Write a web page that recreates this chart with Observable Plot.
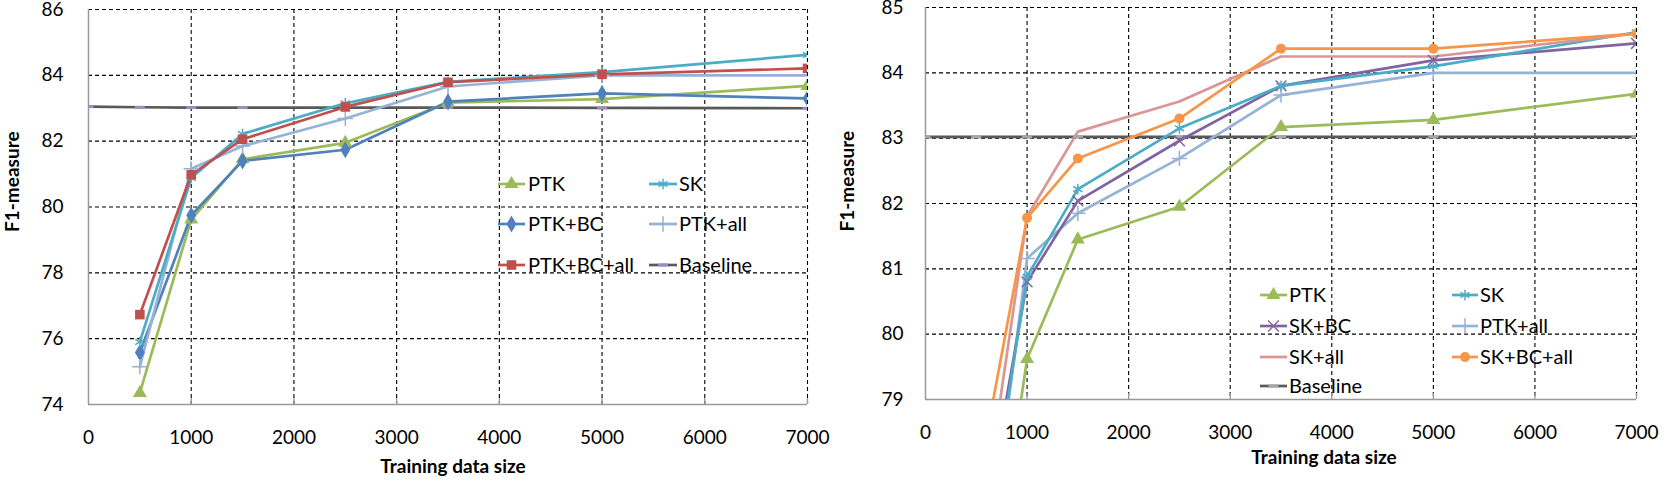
<!DOCTYPE html>
<html><head><meta charset="utf-8">
<script src="https://cdn.jsdelivr.net/npm/d3@7"></script>
<script src="https://cdn.jsdelivr.net/npm/@observablehq/plot@0.6"></script>
<style>
body{margin:0;background:#fff;font-family:Lato,sans-serif;}
#wrap{position:relative;width:1666px;height:485px;display:flex;overflow:hidden;}
.panel{position:relative;width:833px;height:485px;}
.legend{position:absolute;left:0;top:0;pointer-events:none;}
</style></head><body><div id="wrap"></div>
<script>
// ---- data ----
const sizes = [500, 1000, 1500, 2500, 3500, 5000, 7000];
const baseSizes = [0, 500, 1000, 1500, 2500, 3500, 5000, 7000];
const ptk      = [74.35, 79.62, 81.45, 81.95, 83.17, 83.28, 83.68];
const sk       = [75.90, 80.88, 82.22, 83.15, 83.80, 84.10, 84.62];
const ptkBC    = [75.58, 79.75, 81.40, 81.74, 83.20, 83.45, 83.30];
const ptkAll   = [75.15, 81.16, 81.85, 82.69, 83.66, 84.00, 84.00];
const ptkBCAll = [76.73, 80.98, 82.06, 83.04, 83.79, 84.03, 84.21];
const baselineL = [83.05, 83.03, 83.02, 83.02, 83.02, 83.02, 83.01, 83.00];
const skBC     = [76.40, 80.80, 82.04, 82.96, 83.80, 84.19, 84.45];
const skAll    = [76.50, 81.80, 83.10, 83.56, 84.25, 84.25, 84.60];
const skBCAll  = [77.60, 81.78, 82.69, 83.30, 84.37, 84.37, 84.60];
const baselineR = [83.02, 83.02, 83.02, 83.02, 83.02, 83.02, 83.02, 83.02];
const xTicks = [0, 1000, 2000, 3000, 4000, 5000, 6000, 7000];
const yTicksL = [74, 76, 78, 80, 82, 84, 86];
const yTicksR = [79, 80, 81, 82, 83, 84, 85];
const xTitle = "Training data size";
const yTitle = "F1-measure";

// ---- styles ----
const dash = {draw(ctx, size) { const r = Math.sqrt(size / Math.PI); ctx.moveTo(-r, 0); ctx.lineTo(r, 0); }};
const C = {
  ptk: "#9BBB59", sk: "#4BACC6", ptkBC: "#4F81BD", ptkAll: "#95B3D7",
  ptkBCAll: "#C0504D", base: "#595959", skBC: "#8064A2", skAll: "#D99694", skBCAll: "#F79646"
};
function S(name, xs, vals, color, symbol, kind, r, mcolor) {
  return {name, xs, vals, color, symbol, kind, r, mcolor: mcolor || color};
}
const leftSeries = [
  S("Baseline", baseSizes, baselineL, C.base, dash, "dash", 5, "#A08BC4"),
  S("PTK", sizes, ptk, C.ptk, "triangle", "fill", 5.2),
  S("PTK+BC", sizes, ptkBC, C.ptkBC, "diamond", "fill", 5.2),
  S("PTK+all", sizes, ptkAll, C.ptkAll, "plus", "stroke", 5),
  S("SK", sizes, sk, C.sk, "asterisk", "stroke", 5),
  S("PTK+BC+all", sizes, ptkBCAll, C.ptkBCAll, "square", "fill", 5.4)
];
const rightSeries = [
  S("Baseline", baseSizes, baselineR, C.base, dash, "dash", 5, "#A6A6A6"),
  S("PTK", sizes, ptk, C.ptk, "triangle", "fill", 5.2),
  S("PTK+all", sizes, ptkAll, C.ptkAll, "plus", "stroke", 5),
  S("SK+BC", sizes, skBC, C.skBC, "times", "stroke", 5),
  S("SK", sizes, sk, C.sk, "asterisk", "stroke", 5),
  S("SK+all", sizes, skAll, C.skAll, null, "none", 0),
  S("SK+BC+all", sizes, skBCAll, C.skBCAll, "circle", "fill", 5)
];

function seriesMarks(list) {
  const marks = [];
  for (const s of list) {
    const data = s.xs.map((x, i) => ({x, y: s.vals[i]}));
    marks.push(Plot.line(data, {x: "x", y: "y", stroke: s.color, strokeWidth: 2.7, clip: true}));
  }
  for (const s of list) {
    if (s.kind === "none") continue;
    const data = s.xs.map((x, i) => ({x, y: s.vals[i]}));
    const o = {x: "x", y: "y", r: s.r, symbol: s.symbol, clip: true};
    if (s.kind === "fill") Object.assign(o, {fill: s.mcolor, stroke: "none"});
    else if (s.kind === "stroke") Object.assign(o, {fill: "none", stroke: s.mcolor, strokeWidth: 1.5});
    else Object.assign(o, {fill: "none", stroke: s.mcolor, strokeWidth: 3});
    marks.push(Plot.dot(data, o));
  }
  return marks;
}

function makeChart(cfg) {
  const W = 833, H = 485;
  const fh = H - cfg.mt - cfg.mb;
  return Plot.plot({
    width: W, height: H,
    marginLeft: cfg.ml, marginRight: cfg.mr, marginTop: cfg.mt, marginBottom: cfg.mb,
    style: {fontFamily: "Lato, sans-serif", fontSize: "19px", color: "#000", background: "#fff", overflow: "visible"},
    x: {domain: [0, 7000]},
    y: {domain: cfg.ydom},
    marks: [
      Plot.gridX(xTicks.slice(1), {stroke: "#000", strokeOpacity: 1, strokeWidth: 1.1, strokeDasharray: "4,3"}),
      Plot.gridY(cfg.yticks.slice(1), {stroke: "#000", strokeOpacity: 1, strokeWidth: 1.1, strokeDasharray: "4,3"}),
      Plot.ruleX(xTicks.slice(1), {stroke: "#999", strokeWidth: 1.3, insetTop: fh - 6}),
      Plot.ruleX([0], {stroke: "#999", strokeWidth: 1.5}),
      Plot.ruleY([cfg.ydom[0]], {stroke: "#999", strokeWidth: 1.5}),
      Plot.axisX(xTicks, {tickSize: 0, tickPadding: 26, label: null, fill: "#000", tickFormat: d => `${d}`}),
      Plot.axisY(cfg.yticks, {tickSize: 0, tickPadding: cfg.ypad, label: null, fill: "#000", tickFormat: d => `${d}`}),
      ...seriesMarks(cfg.series),
      Plot.text([xTitle], {frameAnchor: "bottom", dy: cfg.xdy, dx: cfg.xdx, fontWeight: "bold", fontSize: 19, fill: "#000"}),
      Plot.text([yTitle], {frameAnchor: "left", rotate: -90, dx: cfg.ydx, dy: cfg.ydy, fontWeight: "bold", fontSize: 19, fill: "#000"})
    ]
  });
}

function legend(panel, items, cols, rows) {
  const svg = d3.select(panel).append("svg").attr("class", "legend").attr("width", 833).attr("height", 485);
  items.forEach((s, i) => {
    const cx = cols[i % 2], cy = rows[Math.floor(i / 2)];
    const g = svg.append("g").attr("transform", `translate(${cx.m0},${cy})`);
    g.append("line").attr("x1", 0).attr("x2", cx.m1 - cx.m0).attr("stroke", s.color).attr("stroke-width", 2.7);
    const mid = (cx.m1 - cx.m0) / 2;
    if (s.kind !== "none") {
      let type;
      if (s.symbol === dash) type = dash;
      else type = {triangle: d3.symbolTriangle, diamond: d3.symbolDiamond, square: d3.symbolSquare, circle: d3.symbolCircle,
        plus: d3.symbolPlus, times: d3.symbolTimes, asterisk: d3.symbolAsterisk}[s.symbol];
      const p = g.append("path").attr("transform", `translate(${mid},0)`)
        .attr("d", d3.symbol(type, Math.PI * s.r * s.r)());
      if (s.kind === "fill") p.attr("fill", s.mcolor);
      else if (s.kind === "stroke") p.attr("fill", "none").attr("stroke", s.mcolor).attr("stroke-width", 1.5);
      else p.attr("fill", "none").attr("stroke", s.mcolor).attr("stroke-width", 3);
    }
    g.append("text").attr("x", cx.t - cx.m0).attr("dy", "0.35em").attr("font-family", "Lato, sans-serif")
      .attr("font-size", 20).attr("fill", "#000").text(s.name);
  });
}

const wrap = document.getElementById("wrap");
const p1 = document.createElement("div"); p1.className = "panel"; wrap.appendChild(p1);
const p2 = document.createElement("div"); p2.className = "panel"; wrap.appendChild(p2);

p1.appendChild(makeChart({ml: 88, mr: 26, mt: 9, mb: 81, ydom: [74, 86], yticks: yTicksL, ypad: 25,
  series: leftSeries, xdy: 68, xdx: 5, ydx: -76, ydy: 25}));
p2.appendChild(makeChart({ml: 92, mr: 30, mt: 7, mb: 86, ydom: [79, 85], yticks: yTicksR, ypad: 22,
  series: rightSeries, xdy: 64, xdx: 43, ydx: -78, ydy: 28}));

const byName = (list, n) => list.find(s => s.name === n);
legend(p1, ["PTK", "SK", "PTK+BC", "PTK+all", "PTK+BC+all", "Baseline"].map(n => byName(leftSeries, n)),
  [{m0: 498, m1: 525, t: 528}, {m0: 649, m1: 677, t: 679}], [184, 224, 265]);
legend(p2, ["PTK", "SK", "SK+BC", "PTK+all", "SK+all", "SK+BC+all", "Baseline"].map(n => byName(rightSeries, n)),
  [{m0: 1260 - 833, m1: 1287 - 833, t: 1289 - 833}, {m0: 1452 - 833, m1: 1478 - 833, t: 1480 - 833}], [295, 326, 357, 386]);
</script></body></html>
